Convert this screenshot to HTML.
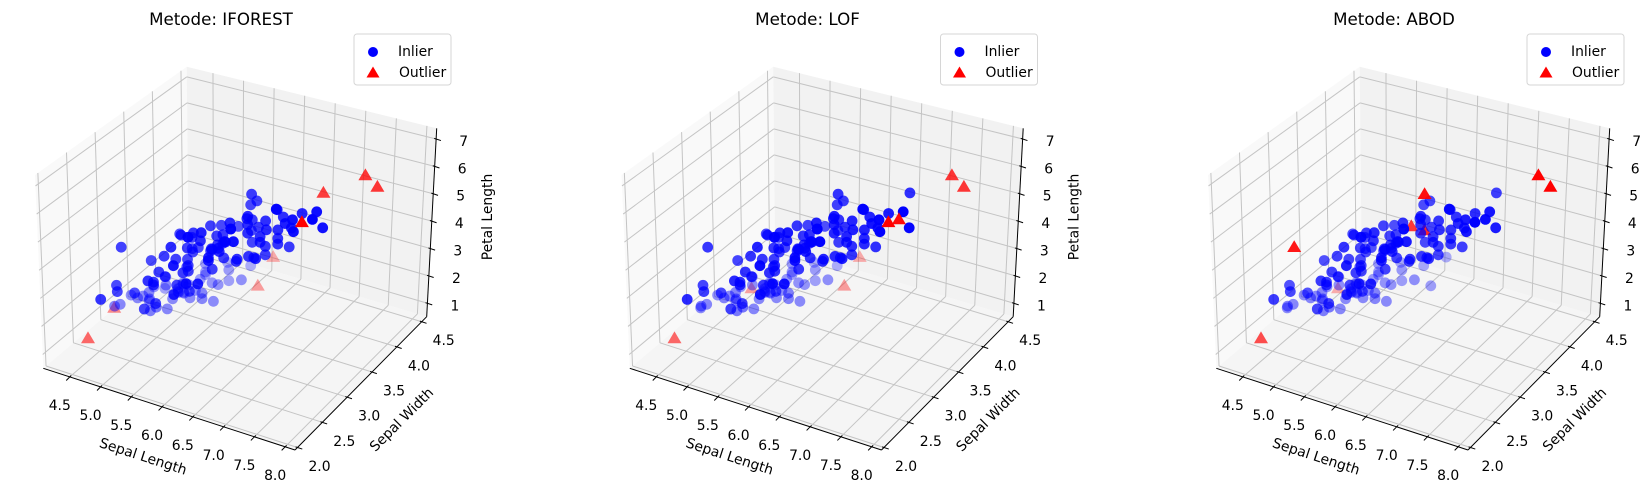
<!DOCTYPE html>
<html><head><meta charset="utf-8"><style>
html,body{margin:0;padding:0;background:#fff;}
svg{display:block;font-family:"DejaVu Sans","Liberation Sans",sans-serif;}
</style></head><body>
<svg id="fig" width="1650" height="495" viewBox="0 0 1650 495" xmlns="http://www.w3.org/2000/svg"></svg>
<script>
const sepalLength=[5.1,4.9,4.7,4.6,5.0,5.4,4.6,5.0,4.4,4.9,5.4,4.8,4.8,4.3,5.8,5.7,5.4,5.1,5.7,5.1,5.4,5.1,4.6,5.1,4.8,5.0,5.0,5.2,5.2,4.7,4.8,5.4,5.2,5.5,4.9,5.0,5.5,4.9,4.4,5.1,5.0,4.5,4.4,5.0,5.1,4.8,5.1,4.6,5.3,5.0,
7.0,6.4,6.9,5.5,6.5,5.7,6.3,4.9,6.6,5.2,5.0,5.9,6.0,6.1,5.6,6.7,5.6,5.8,6.2,5.6,5.9,6.1,6.3,6.1,6.4,6.6,6.8,6.7,6.0,5.7,5.5,5.5,5.8,6.0,5.4,6.0,6.7,6.3,5.6,5.5,5.5,6.1,5.8,5.0,5.6,5.7,5.7,6.2,5.1,5.7,
6.3,5.8,7.1,6.3,6.5,7.6,4.9,7.3,6.7,7.2,6.5,6.4,6.8,5.7,5.8,6.4,6.5,7.7,7.7,6.0,6.9,5.6,7.7,6.3,6.7,7.2,6.2,6.1,6.4,7.2,7.4,7.9,6.4,6.3,6.1,7.7,6.3,6.4,6.0,6.9,6.7,6.9,5.8,6.8,6.7,6.7,6.3,6.5,6.2,5.9];
const sepalWidth=[3.5,3.0,3.2,3.1,3.6,3.9,3.4,3.4,2.9,3.1,3.7,3.4,3.0,3.0,4.0,4.4,3.9,3.5,3.8,3.8,3.4,3.7,3.6,3.3,3.4,3.0,3.4,3.5,3.4,3.2,3.1,3.4,4.1,4.2,3.1,3.2,3.5,3.6,3.0,3.4,3.5,2.3,3.2,3.5,3.8,3.0,3.8,3.2,3.7,3.3,
3.2,3.2,3.1,2.3,2.8,2.8,3.3,2.4,2.9,2.7,2.0,3.0,2.2,2.9,2.9,3.1,3.0,2.7,2.2,2.5,3.2,2.8,2.5,2.8,2.9,3.0,2.8,3.0,2.9,2.6,2.4,2.4,2.7,2.7,3.0,3.4,3.1,2.3,3.0,2.5,2.6,3.0,2.6,2.3,2.7,3.0,2.9,2.9,2.5,2.8,
3.3,2.7,3.0,2.9,3.0,3.0,2.5,2.9,2.5,3.6,3.2,2.7,3.0,2.5,2.8,3.2,3.0,3.8,2.6,2.2,3.2,2.8,2.8,2.7,3.3,3.2,2.8,3.0,2.8,3.0,2.8,3.8,2.8,2.8,2.6,3.0,3.4,3.1,3.0,3.1,3.1,3.1,2.7,3.2,3.3,3.0,2.5,3.0,3.4,3.0];
const petalLength=[1.4,1.4,1.3,1.5,1.4,1.7,1.4,1.5,1.4,1.5,1.5,1.6,1.4,1.1,1.2,1.5,1.3,1.4,1.7,1.5,1.7,1.5,1.0,1.7,1.9,1.6,1.6,1.5,1.4,1.6,1.6,1.5,1.5,1.4,1.5,1.2,1.3,1.4,1.3,1.5,1.3,1.3,1.3,1.6,1.9,1.4,1.6,1.4,1.5,1.4,
4.7,4.5,4.9,4.0,4.6,4.5,4.7,3.3,4.6,3.9,3.5,4.2,4.0,4.7,3.6,4.4,4.5,4.1,4.5,3.9,4.8,4.0,4.9,4.7,4.3,4.4,4.8,5.0,4.5,3.5,3.8,3.7,3.9,5.1,4.5,4.5,4.7,4.4,4.1,4.0,4.4,4.6,4.0,3.3,4.2,4.2,4.2,4.3,3.0,4.1,
6.0,5.1,5.9,5.6,5.8,6.6,4.5,6.3,5.8,6.1,5.1,5.3,5.5,5.0,5.1,5.3,5.5,6.7,6.9,5.0,5.7,4.9,6.7,4.9,5.7,6.0,4.8,4.9,5.6,5.8,6.1,6.4,5.6,5.1,5.6,6.1,5.6,5.5,4.8,5.4,5.6,5.1,5.1,5.9,5.7,5.2,5.0,5.2,5.4,5.1];
const methodNames=["IFOREST","LOF","ABOD"];
const outliersIforest=[14,15,16,42,110,118,119,132];
const outliersLof=[15,16,23,42,118,119,123,132];
const outliersAbod=[23,42,57,86,101,107,118,132];
const xTicks=[4.5,5.0,5.5,6.0,6.5,7.0,7.5,8.0];
const yTicks=[2.0,2.5,3.0,3.5,4.0,4.5];
const zTicks=[1,2,3,4,5,6,7];

const NS="http://www.w3.org/2000/svg";
const svg=document.getElementById('fig');
const XMIN=4.07,XMAX=8.16,YMIN=1.95,YMAX=4.6,ZMIN=0.51,ZMAX=7.39;
const CA=[43.3,368.3],CB=[295,450],CC=[426.7,316.7],CD=[188.5,245.6];
const TA=[35,175],TB=[297,244],TC=[436.7,128.3],TD=[186.7,66.7];
function mk(tag,attrs,parent){const e=document.createElementNS(NS,tag);for(const k in attrs)e.setAttribute(k,attrs[k]);(parent||svg).appendChild(e);return e;}
function bil(a,b,c,d,fx,fy){return[a[0]*(1-fx)*(1-fy)+b[0]*fx*(1-fy)+c[0]*fx*fy+d[0]*(1-fx)*fy,a[1]*(1-fx)*(1-fy)+b[1]*fx*(1-fy)+c[1]*fx*fy+d[1]*(1-fx)*fy];}
function proj(ox,x,y,z){const fx=(x-XMIN)/(XMAX-XMIN),fy=(y-YMIN)/(YMAX-YMIN),fz=(z-ZMIN)/(ZMAX-ZMIN);const f=bil(CA,CB,CC,CD,fx,fy),t=bil(TA,TB,TC,TD,fx,fy);return[ox+f[0]*(1-fz)+t[0]*fz,f[1]*(1-fz)+t[1]*fz];}
function depth(x,y,z){const ux=(x-XMIN)/(XMAX-XMIN)-0.5,uy=(y-YMIN)/(YMAX-YMIN)-0.5,uz=(z-ZMIN)/(ZMAX-ZMIN)-0.5;return -(0.433*ux-0.75*uy+0.5*uz);}
function pts(arr){return arr.map(p=>p[0].toFixed(1)+','+p[1].toFixed(1)).join(' ');}
function line(g,p,q,st,w,name){const l=mk('line',{x1:p[0],y1:p[1],x2:q[0],y2:q[1],stroke:st,'stroke-width':w},g);return l;}
function text(g,x,y,s,size,name,extra){const t=mk('text',Object.assign({x:x,y:y,'font-size':size,'text-anchor':'middle','dominant-baseline':'central',fill:'#000'},extra||{}),g);t.textContent=s;return t;}

const offsets=[0,586.5,1173];
const outlierSets=[outliersIforest,outliersLof,outliersAbod];
methodNames.forEach((m,pi)=>{
  const ox=offsets[pi];
  const g=mk('g',{});
  
  
  const P=(x,y,z)=>proj(ox,x,y,z);
  const fl=mk('polygon',{points:pts([P(XMIN,YMIN,ZMIN),P(XMAX,YMIN,ZMIN),P(XMAX,YMAX,ZMIN),P(XMIN,YMAX,ZMIN)]),fill:'#f5f5f5'},g);
  
  
  const lw=mk('polygon',{points:pts([P(XMIN,YMIN,ZMIN),P(XMIN,YMAX,ZMIN),P(XMIN,YMAX,ZMAX),P(XMIN,YMIN,ZMAX)]),fill:'#f9f9f9'},g);
  
  
  const bw=mk('polygon',{points:pts([P(XMIN,YMAX,ZMIN),P(XMAX,YMAX,ZMIN),P(XMAX,YMAX,ZMAX),P(XMIN,YMAX,ZMAX)]),fill:'#f2f2f2'},g);
  
  
  const gc='#c4c4c4';
  xTicks.forEach(v=>{line(g,P(v,YMIN,ZMIN),P(v,YMAX,ZMIN),gc,1,'x-gridline');line(g,P(v,YMAX,ZMIN),P(v,YMAX,ZMAX),gc,1,'x-gridline');});
  yTicks.forEach(v=>{line(g,P(XMIN,v,ZMIN),P(XMAX,v,ZMIN),gc,1,'y-gridline');line(g,P(XMIN,v,ZMIN),P(XMIN,v,ZMAX),gc,1,'y-gridline');});
  zTicks.forEach(v=>{line(g,P(XMIN,YMIN,v),P(XMIN,YMAX,v),gc,1,'z-gridline');line(g,P(XMIN,YMAX,v),P(XMAX,YMAX,v),gc,1,'z-gridline');});
  line(g,P(XMIN,YMIN,ZMIN),P(XMAX,YMIN,ZMIN),'#000',1,'x-axis-line');
  line(g,P(XMAX,YMIN,ZMIN),P(XMAX,YMAX,ZMIN),'#000',1,'y-axis-line');
  line(g,P(XMAX,YMAX,ZMIN),P(XMAX,YMAX,ZMAX),'#000',1,'z-axis-line');
  xTicks.forEach(v=>{const a=P(v,YMIN,ZMIN);line(g,[a[0]+1.4,a[1]-1.4],[a[0]-3.5,a[1]+3.6],'#000',1,'x-tick');text(g,a[0]-10,a[1]+29,v.toFixed(1),13.9,'x-tick-label');});
  yTicks.forEach(v=>{const a=P(XMAX,v,ZMIN);line(g,[a[0]-1.9,a[1]-0.6],[a[0]+4.8,a[1]+1.6],'#000',1,'y-tick');text(g,a[0]+22,a[1]+19.5,v.toFixed(1),13.9,'y-tick-label');});
  zTicks.forEach(v=>{const a=P(XMAX,YMAX,v);line(g,[a[0]-1.9,a[1]-0.6],[a[0]+4.8,a[1]+1.6],'#000',1,'z-tick');text(g,a[0]+27.5,a[1]+3,String(v),13.9,'z-tick-label');});
  text(g,ox+143,457,'Sepal Length',13.9,'x-axis-title',{transform:'rotate(18 '+(ox+143)+' 457)'});
  text(g,ox+402,420,'Sepal Width',13.9,'y-axis-title',{transform:'rotate(-45 '+(ox+402)+' 420)'});
  text(g,ox+488,217,'Petal Length',13.9,'z-axis-title',{transform:'rotate(-90 '+(ox+488)+' 217)'});
  text(g,ox+221,19,'Metode: '+m,16.7,'subplot-title');
  const outs=outlierSets[pi];
  const items=[];
  for(let i=0;i<sepalLength.length;i++){const isOut=outs.indexOf(i+1)>=0;items.push({x:sepalLength[i],y:sepalWidth[i],z:petalLength[i],o:isOut,d:depth(sepalLength[i],sepalWidth[i],petalLength[i])});}
  [true,false].forEach(flag=>{const sub=items.filter(it=>it.o===flag);const ds=sub.map(it=>it.d);const mn=Math.min(...ds),mx=Math.max(...ds);sub.forEach(it=>{it.a=1-0.7*(mx>mn?(it.d-mn)/(mx-mn):0);});});
  items.sort((a,b)=>b.d-a.d);
  items.forEach(it=>{
    const p=P(it.x,it.y,it.z);
    if(it.o){
      const t=mk('polygon',{points:pts([[p[0],p[1]-7],[p[0]-7,p[1]+4.8],[p[0]+7,p[1]+4.8]]),fill:'#ff0000','fill-opacity':it.a.toFixed(2)},g);
      
      
    }else{
      const c=mk('circle',{cx:p[0].toFixed(1),cy:p[1].toFixed(1),r:5.4,fill:'#0000ff','fill-opacity':it.a.toFixed(2)},g);
      
      
    }
  });
  const lg=mk('g',{},g);
  
  
  const bx=ox+354;
  mk('rect',{x:bx,y:34,width:97,height:51,rx:3,fill:'#fff','fill-opacity':0.8,stroke:'#d6d6d6','stroke-width':1},lg);
  const e1=mk('circle',{cx:bx+19,cy:52,r:5,fill:'#0000ff'},lg);
  
  
  text(lg,bx+44,52,'Inlier',13.9,'legend-inlier-label',{'text-anchor':'start'});
  const e2=mk('polygon',{points:pts([[bx+19,66.5],[bx+12.5,77.5],[bx+25.5,77.5]]),fill:'#ff0000'},lg);
  
  
  text(lg,bx+45,73,'Outlier',13.9,'legend-outlier-label',{'text-anchor':'start'});
});
</script>
</body></html>
